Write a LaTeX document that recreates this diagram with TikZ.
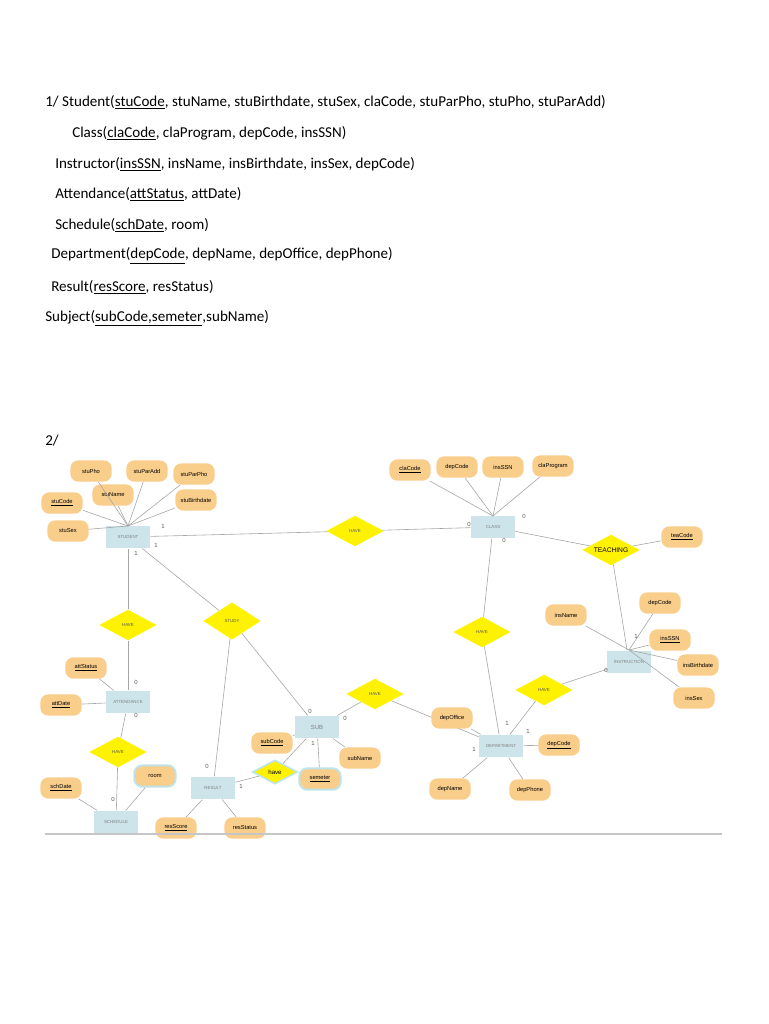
\documentclass[tikz,border=0pt]{standalone}
\usepackage{fontspec}
\setmainfont{Carlito}
\newfontfamily\diag{Liberation Sans}
\usetikzlibrary{shapes.geometric}
\definecolor{attr}{HTML}{F9CD8A}
\definecolor{ent}{HTML}{CDE5EA}
\definecolor{bord}{HTML}{BFE3E8}
\tikzset{
 attrbox/.style={fill=attr,rounded corners=6pt,minimum width=31pt,minimum height=16pt,inner sep=1pt,font=\diag\fontsize{4.3}{5}\selectfont},
 keyattr/.style={attrbox,draw=bord,line width=1.5pt},
 entbox/.style={fill=ent,minimum width=33pt,minimum height=17pt,inner sep=1pt,font=\diag\fontsize{3.3}{4}\selectfont,text=gray},
 rel/.style={diamond,fill=yellow,aspect=1.9,inner sep=0pt,minimum width=43pt,minimum height=23pt,font=\diag\fontsize{3.3}{4}\selectfont,text=gray!70!black},
 conn/.style={draw=gray!70,line width=0.45pt},
 card/.style={font=\diag\fontsize{4.5}{5}\selectfont,text=gray!70!black},
 txt/.style={anchor=west,inner sep=0pt,font=\fontsize{11.3}{13}\selectfont}
}
\begin{document}
\begin{tikzpicture}[x=0.75pt,y=-0.75pt]
\useasboundingbox (0,0) rectangle (768,1024);
\node[txt] (t1) at (45,102) {1/ Student(\underline{stuCode}, stuName, stuBirthdate, stuSex, claCode, stuParPho, stuPho, stuParAdd)};
\node[txt] (t2) at (72,133) {Class(\underline{claCode}, claProgram, depCode, insSSN)};
\node[txt] (t3) at (55,164) {Instructor(\underline{insSSN}, insName, insBirthdate, insSex, depCode)};
\node[txt] (t4) at (55,194) {Attendance(\underline{attStatus}, attDate)};
\node[txt] (t5) at (55,225) {Schedule(\underline{schDate}, room)};
\node[txt] (t6) at (51,256) {Department(\underline{depCode}, depName, depOffice, depPhone)};
\node[txt] (t7) at (51,287) {Result(\underline{resScore}, resStatus)};
\node[txt] (t8) at (45,318) {Subject(\underline{subCode,semeter},subName)};
\node[txt] (t9) at (45,441) {2/};
% connector anchors
\coordinate (st) at (128,526);
\coordinate (ct) at (493,516);
\coordinate (it) at (629,650);
% entities
\node[entbox] (stu) at (128,537) {STUDENT};
\node[entbox] (cla) at (493,527) {CLASS};
\node[entbox] (att) at (128,702) {ATTENDANCE};
\node[entbox] (sch) at (116,822) {SCHEDULE};
\node[entbox] (res) at (213,788) {RESULT};
\node[entbox,font=\diag\fontsize{4.5}{5}\selectfont] (sub) at (317,727) {SUB};
\node[entbox] (dep) at (501,746) {DEPARTMENT};
\node[entbox] (ins) at (629,662) {INSTRUCTION};
% relationships
\node[rel] (r1) at (355,531) {HAVE};
\node[rel,font=\diag\fontsize{5}{6}\selectfont,text=black] (teach) at (611,550) {TEACHING};
\node[rel] (r2) at (128,625) {HAVE};
\node[rel,minimum height=28pt] (study) at (232,621) {STUDY};
\node[rel] (r3) at (118,752) {HAVE};
\node[rel] (r4) at (375,694) {HAVE};
\node[rel] (r5) at (482,632) {HAVE};
\node[rel] (r6) at (544,690) {HAVE};
\node[rel,draw=bord,line width=1.2pt,minimum width=34pt,minimum height=18pt,font=\diag\fontsize{4.6}{5}\selectfont,text=black] (have) at (275,772) {have};
% connectors
\draw[conn] (stu) -- (r1) -- (cla);
\draw[conn] (cla) -- (teach) -- (ins);
\draw[conn] (stu) -- (r2) -- (att);
\draw[conn] (stu) -- (study) -- (sub);
\draw[conn] (study) -- (res);
\draw[conn] (att) -- (r3) -- (sch);
\draw[conn] (res) -- (have) -- (sub);
\draw[conn] (sub) -- (r4) -- (dep);
\draw[conn] (cla) -- (r5) -- (dep);
\draw[conn] (ins) -- (r6) -- (dep);
% attributes
\node[attrbox] (a1) at (91,471) {stuPho};
\node[attrbox] (a2) at (147,471) {stuParAdd};
\node[attrbox] (a3) at (194,474) {stuParPho};
\node[attrbox] (a4) at (113,495) {stuName};
\node[attrbox] (a5) at (196,500) {stuBirthdate};
\node[attrbox] (a6) at (62,503) {\underline{stuCode}};
\node[attrbox] (a7) at (68,531) {stuSex};
\node[attrbox] (b1) at (410,470) {\underline{claCode}};
\node[attrbox] (b2) at (457,467) {depCode};
\node[attrbox] (b3) at (503,467) {insSSN};
\node[attrbox] (b4) at (553,466) {claProgram};
\node[attrbox] (c1) at (682,537) {\underline{teaCode}};
\node[attrbox] (d1) at (86,668) {\underline{attStatus}};
\node[attrbox] (d2) at (61,705) {\underline{attDate}};
\node[attrbox] (e1) at (61,788) {\underline{schDate}};
\node[keyattr] (e2) at (155,776) {room};
\node[attrbox] (f1) at (176,828) {\underline{resScore}};
\node[attrbox] (f2) at (245,828) {resStatus};
\node[attrbox] (g1) at (272,743) {\underline{subCode}};
\node[keyattr] (g2) at (320,779) {\underline{semeter}};
\node[attrbox] (g3) at (360,758) {subName};
\node[attrbox] (h1) at (452,718) {depOffice};
\node[attrbox] (h2) at (559,745) {\underline{depCode}};
\node[attrbox] (h3) at (450,789) {depName};
\node[attrbox] (h4) at (530,790) {depPhone};
\node[attrbox] (i1) at (566,615) {insName};
\node[attrbox] (i2) at (660,603) {depCode};
\node[attrbox] (i3) at (670,640) {\underline{insSSN}};
\node[attrbox] (i4) at (698,665) {insBirthdate};
\node[attrbox] (i5) at (694,698) {insSex};
\foreach \a in {a1,a2,a3,a4,a5,a6,a7} \draw[conn] (\a) -- (st);
\foreach \a in {b1,b2,b3,b4} \draw[conn] (\a) -- (ct);
\foreach \a in {i1,i2,i3,i4,i5} \draw[conn] (\a) -- (it);
\draw[conn] (teach) -- (c1);
\draw[conn] (att) -- (d1);
\draw[conn] (att) -- (d2);
\draw[conn] (sch) -- (e1);
\draw[conn] (sch) -- (e2);
\draw[conn] (res) -- (f1);
\draw[conn] (res) -- (f2);
\draw[conn] (sub) -- (g1);
\draw[conn] (sub) -- (g2);
\draw[conn] (sub) -- (g3);
\draw[conn] (dep) -- (h1);
\draw[conn] (dep) -- (h2);
\draw[conn] (dep) -- (h3);
\draw[conn] (dep) -- (h4);
\draw[draw=gray!45,line width=1pt] (45,834) -- (722,834);
% cardinalities
\node[card] (k1) at (163,526) {1};
\node[card] (k2) at (156,545) {1};
\node[card] (k3) at (136,553) {1};
\node[card] (k4) at (469,524) {0};
\node[card] (k5) at (524,516) {0};
\node[card] (k6) at (504,540) {0};
\node[card] (k7) at (636,636) {1};
\node[card] (k8) at (606,670) {0};
\node[card] (k9) at (136,682) {0};
\node[card] (k10) at (136,715) {0};
\node[card] (k11) at (113,799) {0};
\node[card] (k12) at (207,766) {0};
\node[card] (k13) at (241,786) {1};
\node[card] (k14) at (310,711) {0};
\node[card] (k15) at (345,718) {0};
\node[card] (k16) at (313,743) {1};
\node[card] (k17) at (507,723) {1};
\node[card] (k18) at (528,731) {1};
\node[card] (k19) at (474,749) {1};
\end{tikzpicture}
\end{document}
